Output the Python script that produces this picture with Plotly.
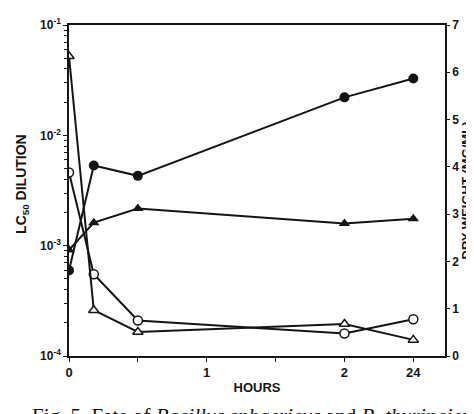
import plotly.graph_objects as go

# time points (hours); the axis is broken after 2 h so 24 h sits just past 2
hours = [0, 0.18, 0.5, 2, 24]
x_ticks = [0, 0.5, 1, 1.5, 2, 24]
x_tick_labels = ["0", "", "1", "", "2", "24"]

# LC50 dilution (left, log axis) - open symbols
lc50_circle = [4.6e-3, 5.5e-4, 2.1e-4, 1.6e-4, 2.15e-4]
lc50_triangle = [5.2e-2, 2.6e-4, 1.65e-4, 1.95e-4, 1.4e-4]

# dry weight mg/ml (right axis) - filled symbols
dry_circle = [1.81, 4.03, 3.81, 5.47, 5.87]
dry_triangle = [2.24, 2.82, 3.12, 2.80, 2.90]

lc50_ticks = [1e-4, 1e-3, 1e-2, 1e-1]
lc50_labels = ["10<sup>-4</sup>", "10<sup>-3</sup>", "10<sup>-2</sup>", "10<sup>-1</sup>"]
dry_ticks = [0, 1, 2, 3, 4, 5, 6, 7]


def axis_pos(h):
    # broken time axis: 24 h drawn half a unit after 2 h
    return h if h <= 2 else 2.5


xp = [axis_pos(h) for h in hours]
ink = "#151515"
line = dict(color=ink, width=2)

fig = go.Figure()
fig.add_trace(go.Scatter(x=xp, y=lc50_circle, mode="lines+markers", line=line,
                         marker=dict(symbol="circle", size=9, color="white",
                                     line=dict(color=ink, width=1.5))))
fig.add_trace(go.Scatter(x=xp, y=lc50_triangle, mode="lines+markers", line=line,
                         marker=dict(symbol="triangle-up", size=9, color="white",
                                     line=dict(color=ink, width=1.5))))
fig.add_trace(go.Scatter(x=xp, y=dry_circle, mode="lines+markers", line=line, yaxis="y2",
                         marker=dict(symbol="circle", size=10, color=ink)))
fig.add_trace(go.Scatter(x=xp, y=dry_triangle, mode="lines+markers", line=line, yaxis="y2",
                         marker=dict(symbol="triangle-up", size=10, color=ink)))

bold = dict(family="Liberation Sans, Arial", size=13, color=ink, weight="bold")

fig.update_layout(
    width=474, height=414,
    margin=dict(l=61, r=37, t=8, b=66),
    paper_bgcolor="white", plot_bgcolor="white",
    showlegend=False,
    xaxis=dict(
        range=[0, 2.73],
        tickvals=[axis_pos(v) for v in x_ticks], ticktext=x_tick_labels,
        ticks="outside", ticklen=4, tickcolor=ink, tickfont=bold,
        showgrid=False, zeroline=False,
        showline=True, linecolor=ink, linewidth=1.5, mirror=True,
        title=dict(text="HOURS", font=bold, standoff=4),
    ),
    yaxis=dict(
        type="log", range=[-4, -1],
        tickvals=lc50_ticks, ticktext=lc50_labels,
        ticks="outside", ticklen=4, tickcolor=ink, tickfont=dict(bold, size=12),
        minor=dict(ticks="outside", ticklen=3, tickcolor=ink, dtick="D1", showgrid=False),
        showgrid=False, zeroline=False,
        showline=True, linecolor=ink, linewidth=1.5,
    ),
    yaxis2=dict(
        overlaying="y", side="right", range=[0, 7],
        tickvals=dry_ticks, ticks="outside", ticklen=3, tickcolor=ink,
        tickfont=dict(bold, size=12),
        showgrid=False, zeroline=False,
        showline=True, linecolor=ink, linewidth=1.5,
        title=dict(text="DRY WEIGHT (MG/ML)", font=dict(bold, size=13), standoff=2),
    ),
)

# left title as a rotated annotation so it sits where the original has it
fig.add_annotation(text="LC<sub>50</sub> DILUTION", textangle=-90,
                   xref="paper", yref="paper", x=-0.125, y=0.52,
                   xanchor="center", yanchor="middle", showarrow=False,
                   font=dict(bold, size=14))

fig.add_annotation(
    text="Fig. 5. Fate of <i>Bacillus sphaericus</i> and <i>B. thuringiensis</i>",
    xref="paper", yref="paper", x=-0.104, y=-0.18,
    xanchor="left", yanchor="middle", showarrow=False,
    font=dict(family="Liberation Serif, Times New Roman", size=21, color=ink),
)

fig.write_html("out.html")
